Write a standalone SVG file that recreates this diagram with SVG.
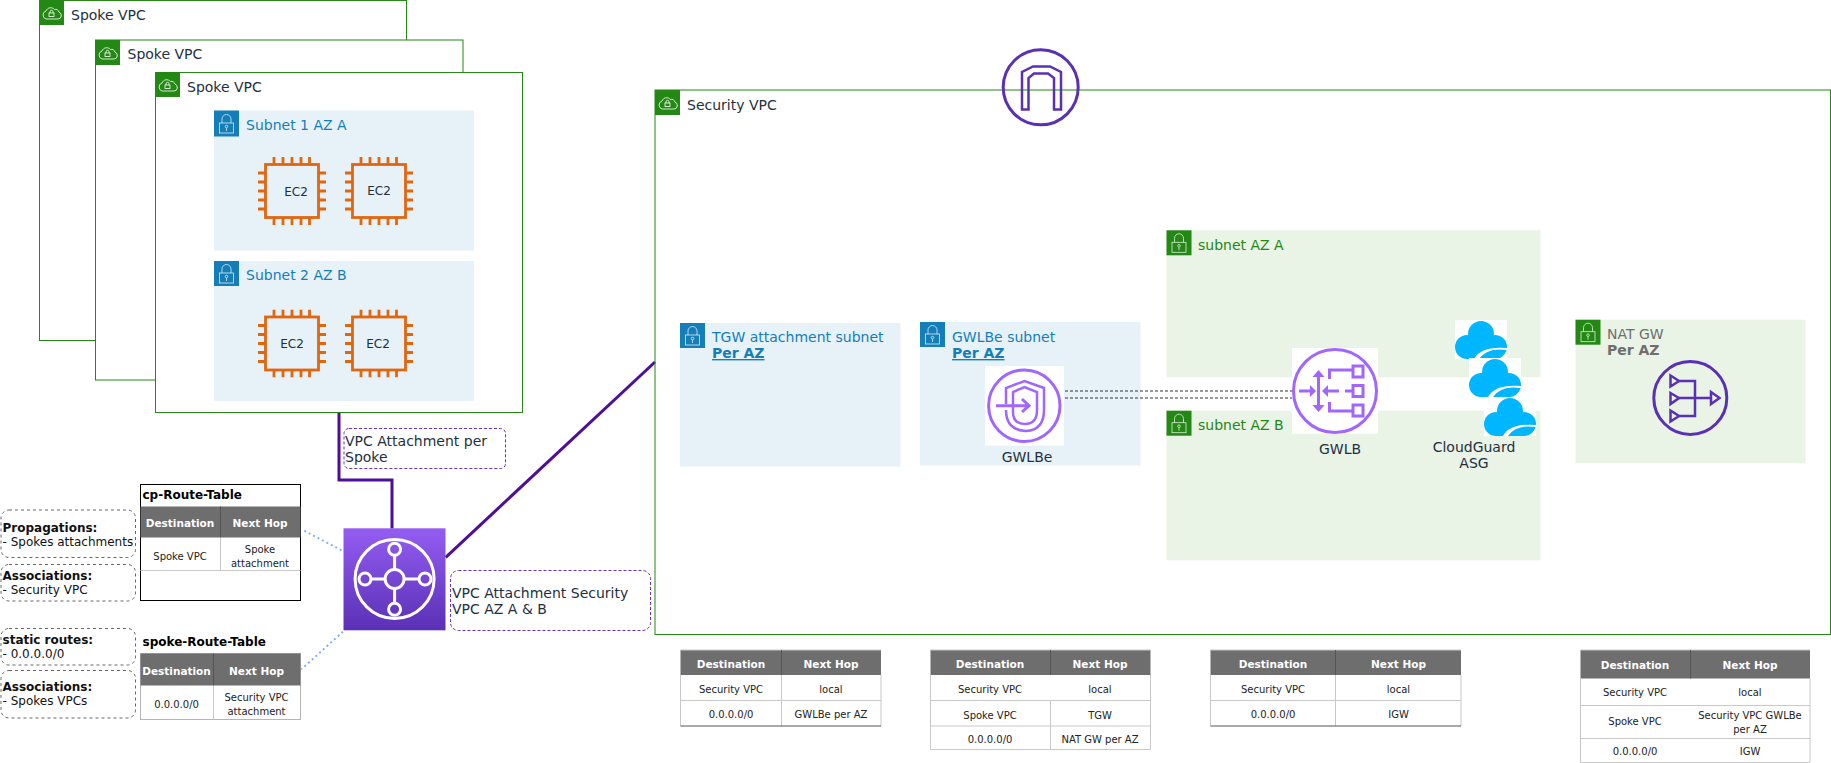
<svg xmlns="http://www.w3.org/2000/svg" xmlns:xlink="http://www.w3.org/1999/xlink" width="1831" height="763" viewBox="0 0 1831 763">
<style>
text{font-family:"DejaVu Sans",Verdana,sans-serif;fill:#232f3e}
.vpc{fill:#fff;stroke:#248814;stroke-width:1}
.vl{font-size:14px}
.sub-b{fill:#e6f2f8}.sub-g{fill:#e9f3e6}
.tb{font-size:14px;fill:#147eba}.tg{font-size:14px;fill:#248814}
.tn{font-size:14px;fill:#6e6e6e}
.bo{font-weight:bold}
.un{text-decoration:underline}
.c{text-anchor:middle}
.sm{font-size:12px}
.lab{font-size:14px}
.note{fill:#fff;stroke:#6a2fc4;stroke-width:1;stroke-dasharray:3 2}
.gn{fill:none;stroke:#666;stroke-width:1;stroke-dasharray:3 3}
.nt{font-size:12px;fill:#111}
.tt{font-size:12px;font-weight:bold;fill:#000}
.th{fill:#6e6e6e}
.hd{font-size:10.5px;font-weight:bold;fill:#fff;text-anchor:middle}
.td{font-size:10px;fill:#222;text-anchor:middle}
.gl{stroke:#c8c8c8;stroke-width:1;fill:none}
.dk{stroke:#555;stroke-width:1;fill:none}
.tw{fill:#fff;stroke:none}
.conn{fill:none;stroke:#4d0f99;stroke-width:3}
.dot{fill:none;stroke:#7eb0ff;stroke-width:2;stroke-dasharray:2 3}
.dsh{fill:none;stroke:#333;stroke-width:1;stroke-dasharray:3 2}
.ring-l{fill:none;stroke:#a166ff;stroke-width:3}
.ring-d{fill:none;stroke:#5a30b5;stroke-width:3}
.wl{fill:none;stroke:#fff}
</style>
<defs>
<linearGradient id="tgwg" x1="0" y1="0" x2="0" y2="1"><stop offset="0" stop-color="#945df2"/><stop offset="1" stop-color="#5a30b5"/></linearGradient>
<symbol id="cloudbox" viewBox="0 0 25 25" width="25" height="25">
<rect width="25" height="25" fill="#248814"/>
<path class="wl" stroke-width="0.800" d="M7 19H19a3.500 3.500 0 0 0 1-6.800a3.500 3.500 0 0 0-4.500-2.700a5 5 0 0 0-8.500 1.500a4.200 4.200 0 0 0 0 8z"/>
<rect x="10" y="13" width="5" height="3.500" class="wl" stroke-width="0.800"/><path class="wl" stroke-width="0.800" d="M11 13v-1.200a1.500 1.500 0 0 1 3 0V13"/>
</symbol>
<symbol id="lock" viewBox="0 0 25 25" width="25" height="25">
<g opacity="0.850">
<rect x="5.500" y="12" width="14" height="10" class="wl" stroke-width="0.800"/>
<path class="wl" stroke-width="0.800" d="M8 12V8a4.500 4.500 0 0 1 9 0v4"/>
<circle cx="12.500" cy="15.500" r="1.300" class="wl" stroke-width="0.800"/><path class="wl" stroke-width="0.800" d="M12.500 17v3"/>
</g>
</symbol>
<symbol id="chip" viewBox="0 0 68 68" width="68" height="68">
<g fill="none" stroke="#e0660f" stroke-width="2.800">
<rect x="7.500" y="7.500" width="53" height="53" fill="none"/>
<path d="M16 0v7M25 0v7M34 0v7M43 0v7M51.500 0v7M16 61v7M25 61v7M34 61v7M43 61v7M51.500 61v7M0 16h7M0 25h7M0 34h7M0 43h7M0 52h7M61 16h7M61 25h7M61 34h7M61 43h7M61 52h7"/>
</g>
</symbol>
<clipPath id="cgclip"><rect width="52" height="39"/></clipPath>
<symbol id="cgcloud" viewBox="0 0 52 39" width="52" height="39">
<rect width="52" height="39" fill="#fff"/>
<g clip-path="url(#cgclip)" fill="#00b7ff">
<circle cx="26" cy="14" r="13"/><circle cx="12" cy="27" r="12"/><circle cx="40" cy="27" r="12"/><rect x="12" y="20" width="28" height="19"/>
</g>
<path fill="#fff" d="M19 39Q26 26 52 28V30Q32 27 24 39z"/>
<path fill="#fff" d="M46 39L52 31V39z"/>
</symbol>
</defs>

<g id="spoke-vpc-1"><rect class="vpc" x="39.500" y="0.500" width="367" height="340"/><use xlink:href="#cloudbox" href="#cloudbox" x="39" y="0"/><text class="vl" x="71" y="20">Spoke VPC</text></g>
<g id="spoke-vpc-2"><rect class="vpc" x="95.500" y="40" width="367.500" height="340"/><use xlink:href="#cloudbox" href="#cloudbox" x="95" y="40"/><text class="vl" x="127.500" y="59">Spoke VPC</text></g>

<g id="connectors">
<path class="conn" d="M339 412V480H392V528.500"/>
<path class="conn" d="M445.700 557.300L655 362"/>
<path class="dot" d="M304.300 530.700L343.400 551.300"/>
<path class="dot" d="M343 631.700L301.300 669.300"/>
</g>

<g id="spoke-vpc-3"><rect class="vpc" x="155.500" y="72.500" width="367" height="340"/><use xlink:href="#cloudbox" href="#cloudbox" x="155" y="72"/><text class="vl" x="187" y="92">Spoke VPC</text></g>

<g id="subnet-1"><rect class="sub-b" x="214" y="110.500" width="260" height="140"/><rect x="214" y="110.500" width="25" height="26" fill="#147eba"/><use xlink:href="#lock" href="#lock" x="214" y="111"/><text class="tb" x="246" y="130">Subnet 1 AZ A</text></g>
<g id="subnet-2"><rect class="sub-b" x="214" y="261" width="260" height="140"/><rect x="214" y="261" width="25" height="25" fill="#147eba"/><use xlink:href="#lock" href="#lock" x="214" y="261"/><text class="tb" x="246" y="280">Subnet 2 AZ B</text></g>

<g id="ec2-1"><use xlink:href="#chip" href="#chip" x="258" y="157"/><text class="sm c" x="296" y="196">EC2</text></g>
<g id="ec2-2"><use xlink:href="#chip" href="#chip" x="345" y="157"/><text class="sm c" x="379" y="195">EC2</text></g>
<g id="ec2-3"><use xlink:href="#chip" href="#chip" x="258" y="309.500"/><text class="sm c" x="292" y="348">EC2</text></g>
<g id="ec2-4"><use xlink:href="#chip" href="#chip" x="345" y="309.500"/><text class="sm c" x="378" y="348">EC2</text></g>

<g id="note-spoke-attachment"><rect class="note" x="344" y="428.500" width="161.500" height="40" rx="5"/><text class="lab" x="345" y="446">VPC Attachment per</text><text class="lab" x="345" y="462">Spoke</text></g>
<g id="note-security-attachment"><rect class="note" x="450.500" y="570.500" width="200" height="60" rx="8"/><text class="lab" x="452" y="598">VPC Attachment Security</text><text class="lab" x="452" y="614">VPC AZ A &amp; B</text></g>

<g id="tgw">
<rect x="343.500" y="528.300" width="102" height="102" fill="url(#tgwg)"/>
<g fill="none" stroke="#fff" stroke-width="3">
<circle cx="394.600" cy="579" r="39.500"/>
<circle cx="394.600" cy="579" r="9.500"/>
<circle cx="394.600" cy="549.300" r="6"/><circle cx="394.600" cy="609.300" r="6"/>
<circle cx="365" cy="579" r="6"/><circle cx="425" cy="579" r="6"/>
<path d="M394.600 555.300V569.500M394.600 588.500V603.300M371 579H385M404 579H419"/>
</g>
</g>

<g id="note-propagations"><rect class="gn" x="1" y="510" width="134.500" height="47.500" rx="8"/><text class="nt bo" x="2.500" y="532">Propagations:</text><text class="nt" x="2.500" y="546">- Spokes attachments</text></g>
<g id="note-associations-cp"><rect class="gn" x="1" y="564.500" width="134.500" height="36.500" rx="8"/><text class="nt bo" x="2.500" y="580">Associations:</text><text class="nt" x="2.500" y="594">- Security VPC</text></g>
<g id="note-static"><rect class="gn" x="1" y="628.500" width="134.500" height="36.500" rx="8"/><text class="nt bo" x="2.500" y="644">static routes:</text><text class="nt" x="2.500" y="658">- 0.0.0.0/0</text></g>
<g id="note-associations-spoke"><rect class="gn" x="1" y="670.500" width="134.500" height="47.500" rx="8"/><text class="nt bo" x="2.500" y="691">Associations:</text><text class="nt" x="2.500" y="705">- Spokes VPCs</text></g>

<g id="cp-route-table">
<rect x="140.500" y="484.500" width="160" height="116" fill="#fff" stroke="#000"/>
<text class="tt" x="142.500" y="499">cp-Route-Table</text>
<rect class="th" x="140.500" y="506.500" width="160" height="31"/>
<path class="gl" d="M140.500 570.500H300.500M220.500 537.500V570.500"/><path d="M220.500 506.500V537.500" stroke="#555"/>
<text class="hd" x="180" y="527">Destination</text><text class="hd" x="260" y="527">Next Hop</text>
<text class="td" x="180" y="560">Spoke VPC</text><text class="td" x="260" y="553">Spoke</text><text class="td" x="260" y="567">attachment</text>
</g>
<g id="spoke-route-table">
<text class="tt" x="142.500" y="646">spoke-Route-Table</text>
<rect x="140.500" y="653.500" width="160" height="66" fill="#fff" stroke="#b5b5b5"/>
<rect class="th" x="140.500" y="653.500" width="160" height="32"/>
<path class="gl" d="M213.500 685.500V719.500"/><path d="M213.500 653.500V685.500" stroke="#555"/>
<text class="hd" x="176.500" y="675">Destination</text><text class="hd" x="256.500" y="675">Next Hop</text>
<text class="td" x="176.500" y="708">0.0.0.0/0</text><text class="td" x="256.500" y="701">Security VPC</text><text class="td" x="256.500" y="715">attachment</text>
</g>

<g id="security-vpc" fill="none"><rect x="655" y="90" width="1175.500" height="544.500" fill="none" stroke="#248814"/><use xlink:href="#cloudbox" href="#cloudbox" x="655" y="90"/><text class="vl" x="687" y="110">Security VPC</text></g>

<g id="igw">
<circle cx="1040.700" cy="87.300" r="37.500" class="ring-d"/>
<path fill="none" stroke="#5a30b5" stroke-width="2.500" d="M1022 109.500V72L1033 66.500H1050L1061 72V109.500H1054V78L1048 73.500H1034L1028.500 78V109.500z"/>
</g>

<g id="tgw-subnet"><rect class="sub-b" x="680" y="323" width="220.500" height="143.500"/><rect x="680" y="323" width="25" height="25" fill="#147eba"/><use xlink:href="#lock" href="#lock" x="680" y="323"/><text class="tb" x="712" y="342">TGW attachment subnet</text><text class="tb bo un" x="712" y="358">Per AZ</text></g>
<g id="gwlbe-subnet"><rect class="sub-b" x="920" y="322" width="220.500" height="143.500"/><rect x="920" y="322" width="25" height="25" fill="#147eba"/><use xlink:href="#lock" href="#lock" x="920" y="322"/><text class="tb" x="952" y="342">GWLBe subnet</text><text class="tb bo un" x="952" y="358">Per AZ</text></g>

<g id="subnet-az-a"><rect class="sub-g" x="1166.500" y="230.300" width="374" height="147"/><rect x="1166.500" y="230.300" width="25" height="25" fill="#248814"/><use xlink:href="#lock" href="#lock" x="1166.500" y="230.300"/><text class="tg" x="1198" y="250">subnet AZ A</text></g>
<g id="subnet-az-b"><rect class="sub-g" x="1166.500" y="410.700" width="374" height="149.600"/><rect x="1166.500" y="410.700" width="25" height="25" fill="#248814"/><use xlink:href="#lock" href="#lock" x="1166.500" y="410.700"/><text class="tg" x="1198" y="430">subnet AZ B</text></g>
<g id="nat-subnet"><rect class="sub-g" x="1575.500" y="319.700" width="230" height="143.600"/><rect x="1575.500" y="319.700" width="25" height="25" fill="#248814"/><use xlink:href="#lock" href="#lock" x="1575.500" y="319.700"/><text class="tn" x="1607" y="339">NAT GW</text><text class="tn bo" x="1607" y="355">Per AZ</text></g>

<g id="gwlbe-links">
<path class="dsh" d="M1065 391H1292M1065 398H1292"/>
</g>

<g id="gwlbe">
<rect class="tw" x="985" y="366" width="79" height="79.700"/>
<circle cx="1024.300" cy="405.700" r="35.700" class="ring-l"/>
<g fill="none" stroke="#a166ff" stroke-width="2.500">
<path d="M1006 404V388L1024.500 381L1044 388V410Q1044 430 1026 431Q1006 430 1006 410"/>
<path d="M1013 412V392L1024.500 387L1037 392V410Q1037 424 1025 424Q1013 424 1013 412"/>
<path d="M996 405.700H1028M1022 399L1029 405.700L1022 412" stroke-width="3"/>
</g>
<text class="lab c" x="1027" y="462">GWLBe</text>
</g>

<g id="gwlb">
<rect class="tw" x="1292" y="348" width="86" height="85.700"/>
<circle cx="1335" cy="391" r="41.500" class="ring-l"/>
<g fill="none" stroke="#a166ff" stroke-width="3">
<path d="M1299 391H1312M1339 391H1326M1318.500 376V406M1345 391H1353"/>
<path d="M1329.500 379V370H1353M1329.500 402V411H1353"/>
<rect x="1353" y="366" width="10" height="11"/><rect x="1353" y="385.500" width="10" height="11"/><rect x="1353" y="405" width="10" height="11"/>
</g>
<path fill="#a166ff" d="M1310 385L1316 391L1310 397zM1328 385L1322 391L1328 397zM1312.500 377L1318.500 370L1324.500 377zM1312.500 405L1318.500 412L1324.500 405z"/>
<text class="lab c" x="1340" y="454">GWLB</text>
</g>

<g id="cloudguard-asg">
<use xlink:href="#cgcloud" href="#cgcloud" x="1455" y="320"/>
<use xlink:href="#cgcloud" href="#cgcloud" x="1469" y="358"/>
<use xlink:href="#cgcloud" href="#cgcloud" x="1484" y="397"/>
<text class="lab c" x="1474" y="452">CloudGuard</text><text class="lab c" x="1474" y="468">ASG</text>
</g>

<g id="nat-gw">
<circle cx="1690.300" cy="398" r="36.500" class="ring-d"/>
<g fill="none" stroke="#5a30b5" stroke-width="2.500">
<path d="M1670.500 375.500L1679 381L1670.500 386.500zM1670.500 393L1679 398L1670.500 404zM1670.500 410.500L1679 416L1670.500 421.500zM1711 392L1719.500 398L1711 404z"/>
<path d="M1679 381H1695V416H1679M1679 398H1711"/>
</g>
</g>

<g id="table-tgw-subnet" transform="translate(0,-1)">
<rect x="680.500" y="651" width="200.500" height="76" fill="#fff"/>
<rect class="th" x="680.500" y="651" width="200.500" height="25"/>
<path class="gl" d="M680.500 651H881M680.500 701.500H881M680.500 676V727M881 676V727M781.500 676V727"/><path class="dk" d="M680.500 727H881M781.500 651V676"/>
<text class="hd" x="731" y="669">Destination</text><text class="hd" x="831" y="669">Next Hop</text>
<text class="td" x="731" y="694">Security VPC</text><text class="td" x="831" y="694">local</text>
<text class="td" x="731" y="719">0.0.0.0/0</text><text class="td" x="831" y="719">GWLBe per AZ</text>
</g>
<g id="table-gwlbe-subnet" transform="translate(0,-1)">
<rect x="930.500" y="651" width="220" height="99.500" fill="#fff"/>
<rect class="th" x="930.500" y="651" width="220" height="25"/>
<path class="gl" d="M930.500 651H1150.500M930.500 701.500H1150.500M930.500 727H1150.500M930.500 750.500H1150.500M930.500 676V750.500M1150.500 676V750.500M1050.500 701.500V750.500"/><path class="dk" d="M1050.500 651V676"/>
<text class="hd" x="990" y="669">Destination</text><text class="hd" x="1100" y="669">Next Hop</text>
<text class="td" x="990" y="694">Security VPC</text><text class="td" x="1100" y="694">local</text>
<text class="td" x="990" y="720">Spoke VPC</text><text class="td" x="1100" y="720">TGW</text>
<text class="td" x="990" y="744">0.0.0.0/0</text><text class="td" x="1100" y="744">NAT GW per AZ</text>
</g>
<g id="table-az-subnet" transform="translate(0,-1)">
<rect x="1210.500" y="651" width="250.500" height="76" fill="#fff"/>
<rect class="th" x="1210.500" y="651" width="250.500" height="25"/>
<path class="gl" d="M1210.500 651H1461M1210.500 701.500H1461M1210.500 676V727M1461 676V727M1335.500 676V727"/><path class="dk" d="M1210.500 727H1461M1335.500 651V676"/>
<text class="hd" x="1273" y="669">Destination</text><text class="hd" x="1398.500" y="669">Next Hop</text>
<text class="td" x="1273" y="694">Security VPC</text><text class="td" x="1398.500" y="694">local</text>
<text class="td" x="1273" y="719">0.0.0.0/0</text><text class="td" x="1398.500" y="719">IGW</text>
</g>
<g id="table-nat-subnet">
<rect x="1580.500" y="650" width="229.500" height="112.500" fill="#fff"/>
<rect class="th" x="1580.500" y="650" width="229.500" height="28.500"/>
<path class="gl" d="M1580.500 650H1810M1580.500 705.500H1810M1580.500 738.500H1810M1580.500 762.500H1810M1580.500 678.500V762.500M1810 678.500V762.500"/><path class="dk" d="M1690.500 650V678.500"/>
<text class="hd" x="1635" y="669">Destination</text><text class="hd" x="1750" y="669">Next Hop</text>
<text class="td" x="1635" y="696">Security VPC</text><text class="td" x="1750" y="696">local</text>
<text class="td" x="1635" y="725">Spoke VPC</text><text class="td" x="1750" y="719">Security VPC GWLBe</text><text class="td" x="1750" y="733">per AZ</text>
<text class="td" x="1635" y="755">0.0.0.0/0</text><text class="td" x="1750" y="755">IGW</text>
</g>
</svg>
